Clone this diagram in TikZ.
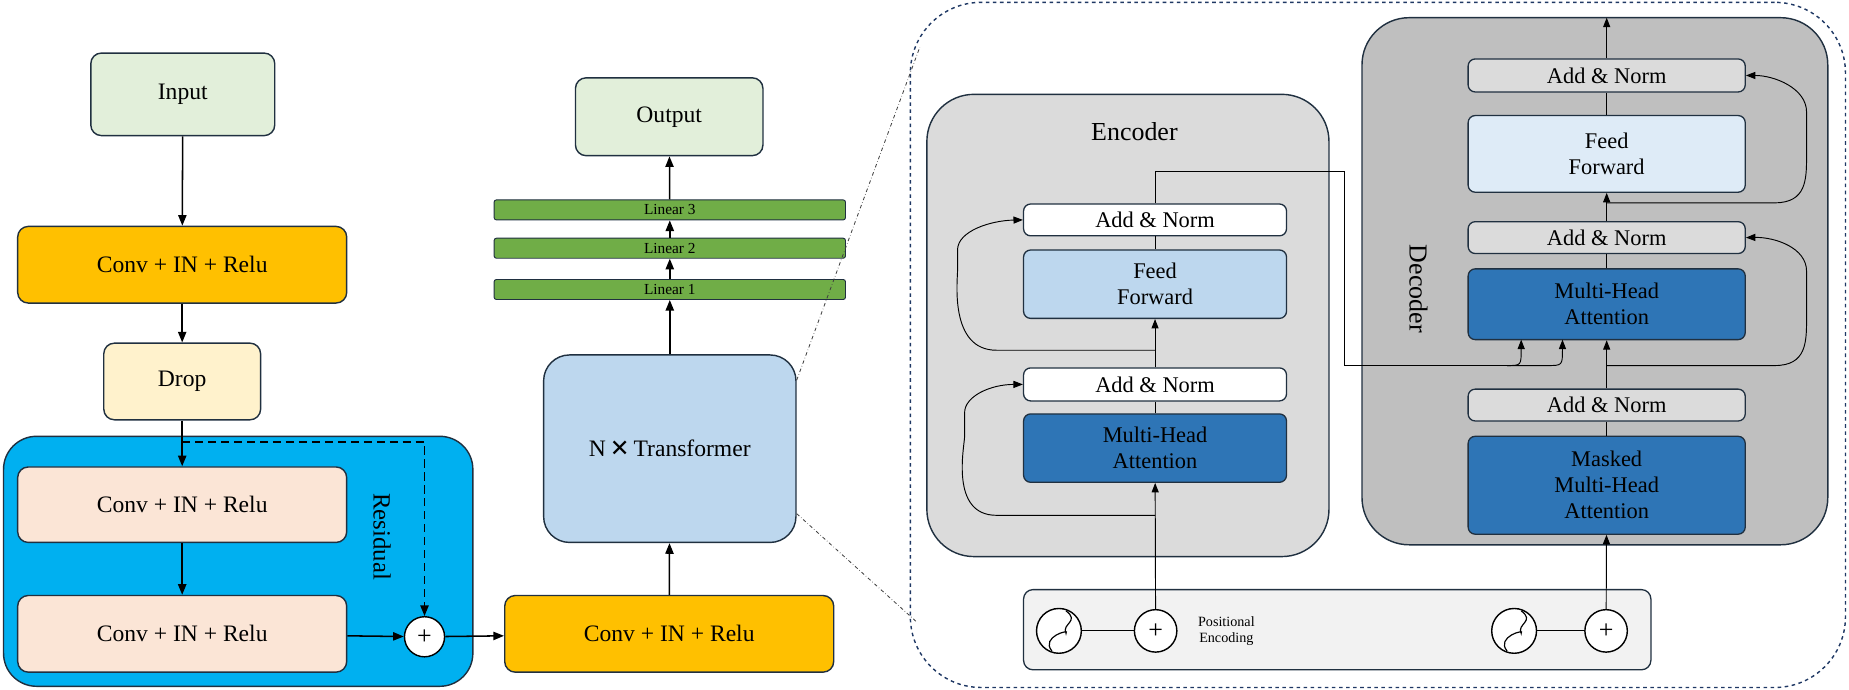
\documentclass[tikz,border=0pt]{standalone}
\usepackage{fontspec}
\setmainfont{Liberation Serif}
\usetikzlibrary{arrows.meta}
\definecolor{lgreen}{HTML}{E2EFDA}
\definecolor{orng}{HTML}{FFC000}
\definecolor{dropc}{HTML}{FFF2CC}
\definecolor{resb}{HTML}{00B0F0}
\definecolor{peach}{HTML}{FBE5D6}
\definecolor{lblue}{HTML}{BDD7EE}
\definecolor{vlblue}{HTML}{DEEBF7}
\definecolor{dblue}{HTML}{2E75B6}
\definecolor{grn}{HTML}{70AD47}
\definecolor{navy}{HTML}{1F3864}
\definecolor{edge}{HTML}{203040}
\begin{document}
\begin{tikzpicture}[x=1pt,y=-1pt,
  box/.style={draw=edge,line width=1.2pt,rounded corners=9pt,inner sep=0pt,align=center,font=\fontsize{20}{23}\selectfont},
  sm/.style={draw=edge,line width=1.1pt,rounded corners=6pt,inner sep=0pt,align=center,font=\fontsize{19}{22}\selectfont},
  arr/.style={-{Triangle[length=9pt,width=7pt]},line width=1.3pt},
  tarr/.style={-{Triangle[length=8pt,width=6pt]},line width=0.8pt},
  ln/.style={line width=0.8pt},
  circ/.style={draw=black,circle,fill=white,line width=1.2pt,minimum size=36pt,inner sep=0pt,font=\fontsize{22}{22}\selectfont}]
\useasboundingbox (0,0) rectangle (1568,585);
% ---- left column
\node[box,fill=lgreen,minimum width=156pt,minimum height=70pt] (in) at (155,80) {Input};
\node[box,fill=orng,minimum width=279pt,minimum height=65pt] (c1) at (154.5,224.5) {Conv + IN + Relu};
\node[box,fill=dropc,minimum width=133pt,minimum height=65pt] (drop) at (154.5,323.5) {Drop};
\node[draw=edge,line width=1.2pt,fill=resb,rounded corners=28pt,minimum width=398pt,minimum height=212pt,inner sep=0pt] (res) at (202,476) {};
\node[box,fill=peach,minimum width=279pt,minimum height=64pt] (c2) at (154.5,428) {Conv + IN + Relu};
\node[box,fill=peach,minimum width=279pt,minimum height=65pt] (c3) at (154.5,537.5) {Conv + IN + Relu};
\node[rotate=-90,font=\fontsize{21}{24}\selectfont] (reslab) at (324,455) {Residual};
\node[circ,minimum size=34pt] (plus) at (360,540) {+};
\node[box,fill=orng,minimum width=279pt,minimum height=65pt] (c4) at (567.5,537.5) {Conv + IN + Relu};
\node[box,fill=lblue,rounded corners=22pt,minimum width=214pt,minimum height=159pt] (tr) at (568,380.5) {N\,{\fontspec{DejaVu Sans}\char"2715}\,Transformer};
\node[draw=edge,line width=0.8pt,fill=grn,rounded corners=2pt,minimum width=298pt,minimum height=17pt,inner sep=0pt,font=\fontsize{13}{13}\selectfont] (l1) at (568,245.5) {Linear 1};
\node[draw=edge,line width=0.8pt,fill=grn,rounded corners=2pt,minimum width=298pt,minimum height=17pt,inner sep=0pt,font=\fontsize{13}{13}\selectfont] (l2) at (568,210.5) {Linear 2};
\node[draw=edge,line width=0.8pt,fill=grn,rounded corners=2pt,minimum width=298pt,minimum height=17pt,inner sep=0pt,font=\fontsize{13}{13}\selectfont] (l3) at (568,178) {Linear 3};
\node[box,fill=lgreen,minimum width=159pt,minimum height=66pt] (out) at (567.5,99) {Output};
\draw[arr] (in) -- (c1);
\draw[arr] (c1) -- (drop);
\draw[arr] (drop) -- (c2);
\draw[arr] (c2) -- (c3);
\draw[arr] (c3) -- (plus);
\draw[arr] (plus) -- (c4);
\draw[arr] (c4) -- (tr);
\draw[arr] (tr) -- (l1);
\draw[arr] (l1) -- (l2);
\draw[arr] (l2) -- (l3);
\draw[arr] (l3) -- (out);
\coordinate (dsplit) at (154.5,375);
\draw[arr,dashed,dash pattern=on 7pt off 4pt] (dsplit) -| (plus.north);
% ---- zoom frame
\node[draw=navy,dashed,line width=1.2pt,rounded corners=60pt,minimum width=793pt,minimum height=581pt,inner sep=0pt] (frame) at (1168.5,292.5) {};
\coordinate (z1) at (780,40);
\coordinate (z2) at (778,528);
\draw[dash dot,line width=0.7pt,gray!50!black] (tr.north east) ++(0,22) -- (z1);
\draw[dash dot,line width=0.7pt,gray!50!black] (tr.south east) ++(0,-25) -- (z2);
% ---- encoder
\node[draw=edge,line width=1.2pt,fill=gray!28,rounded corners=40pt,minimum width=341pt,minimum height=392pt,inner sep=0pt] (enc) at (956.5,276) {};
\node[font=\fontsize{22}{25}\selectfont] (enclab) at (962,112) {Encoder};
\node[sm,fill=white,minimum width=223pt,minimum height=27pt] (ean2) at (979.5,186.5) {Add \& Norm};
\node[sm,fill=lblue,minimum width=223pt,minimum height=58pt] (eff) at (979.5,241) {Feed\\Forward};
\node[sm,fill=white,minimum width=223pt,minimum height=28pt] (ean1) at (979.5,326) {Add \& Norm};
\node[sm,fill=dblue,minimum width=223pt,minimum height=58pt] (emha) at (979.5,380) {Multi-Head\\Attention};
% ---- decoder
\node[draw=edge,line width=1.2pt,fill=gray!50,rounded corners=40pt,minimum width=395pt,minimum height=447pt,inner sep=0pt] (dec) at (1352.5,238.5) {};
\node[rotate=-90,font=\fontsize{22}{25}\selectfont] (declab) at (1203,245) {Decoder};
\node[sm,fill=gray!28,minimum width=235pt,minimum height=28pt] (dan3) at (1362.5,64) {Add \& Norm};
\node[sm,fill=vlblue,minimum width=235pt,minimum height=65pt] (dff) at (1362.5,130.5) {Feed\\Forward};
\node[sm,fill=gray!28,minimum width=235pt,minimum height=27pt] (dan2) at (1362.5,201.5) {Add \& Norm};
\node[sm,fill=dblue,minimum width=235pt,minimum height=60pt] (dmha) at (1362.5,258) {Multi-Head\\Attention};
\node[sm,fill=gray!28,minimum width=235pt,minimum height=27pt] (dan1) at (1362.5,343.5) {Add \& Norm};
\node[sm,fill=dblue,minimum width=235pt,minimum height=83pt] (dmm) at (1362.5,411.5) {Masked\\Multi-Head\\Attention};
% ---- positional encoding
\node[draw=edge,line width=1.1pt,fill=gray!10,rounded corners=8pt,minimum width=532pt,minimum height=68pt,inner sep=0pt] (pe) at (1134,534) {};
\node[circ,minimum size=38pt] (s1) at (898,535) {};
\node[circ] (p1) at (980,535) {+};
\node[circ,minimum size=38pt] (s2) at (1284,535) {};
\node[circ] (p2) at (1362,535) {+};
\draw[line width=1pt] (s1.east) -- (p1.west);
\draw[line width=1pt] (s2.east) -- (p2.west);
\foreach \c in {s1,s2}{
  \draw[line width=1pt] ([xshift=-6pt,yshift=-17pt]\c.center) .. controls ([xshift=-16pt,yshift=-5pt]\c.center) and ([xshift=10pt,yshift=2pt]\c.center) .. ([xshift=6pt,yshift=-2pt]\c.center)
    .. controls ([xshift=2pt,yshift=6pt]\c.center) and ([xshift=18pt,yshift=8pt]\c.center) .. ([xshift=6pt,yshift=17pt]\c.center);}
\node[align=center,font=\fontsize{12}{14}\selectfont] (pelab) at (1040,535) {Positional\\Encoding};
% ---- encoder connections
\draw[tarr] (p1) -- (emha);
\draw[ln] (emha) -- (ean1);
\draw[tarr] (ean1) -- (eff);
\draw[ln] (eff) -- (ean2);
\coordinate (eb1) at (979.5,437);
\coordinate (eb2) at (979.5,297);
\draw[tarr] (eb1) -- (845,437) .. controls (805,437) and (818,378) .. (818,370) -- (818,350) .. controls (818,336) and (840,326) .. (ean1.west);
\draw[tarr] (eb2) -- (845,297) .. controls (805,297) and (812,238) .. (812,230) -- (812,212) .. controls (812,196) and (840,187) .. (ean2.west);
\coordinate (et) at (979.5,145);
\coordinate (ec) at (1140,145);
\coordinate (ed) at (1140,310);
\coordinate (ef) at (1278,310);
\coordinate (m1) at (1290,288);
\coordinate (m2) at (1325,288);
\draw[ln] (ean2.north) -- (et) -- (ec) -- (ed) -- (ef);
\draw[tarr] (ef) .. controls (1290,310) .. (m1);
\draw[tarr] (ef) -- (1312,310) .. controls (1325,310) .. (m2);
% ---- decoder connections
\draw[tarr] (p2) -- (dmm);
\draw[ln] (dmm) -- (dan1);
\draw[tarr] (dan1) -- (dmha);
\draw[ln] (dmha) -- (dan2);
\draw[tarr] (dan2) -- (dff);
\draw[ln] (dff) -- (dan3);
\coordinate (dtop) at (1362.5,15);
\draw[tarr] (dan3) -- (dtop);
\coordinate (db1) at (1362.5,310);
\coordinate (db2) at (1362.5,172);
\draw[tarr] (db1) -- (1505,310) .. controls (1532,310) and (1532,290) .. (1532,270) -- (1532,230) .. controls (1532,210) and (1505,201) .. (dan2.east);
\draw[tarr] (db2) -- (1505,172) .. controls (1532,172) and (1532,152) .. (1532,132) -- (1532,95) .. controls (1532,75) and (1505,64) .. (dan3.east);
\end{tikzpicture}
\end{document}
